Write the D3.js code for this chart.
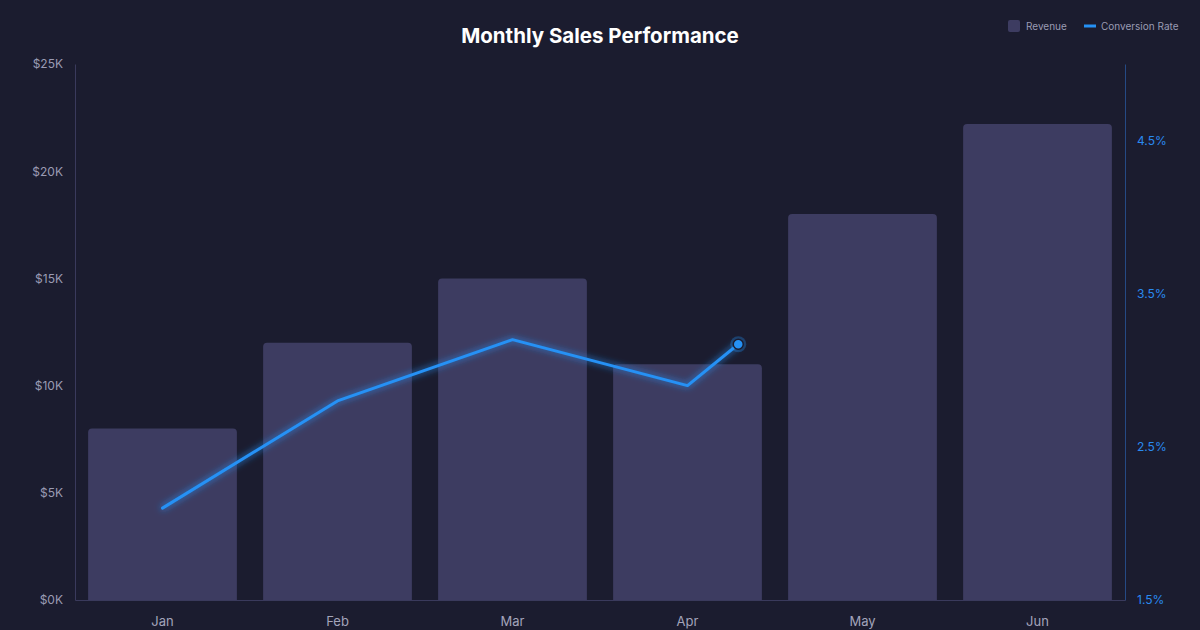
<!DOCTYPE html>
<html>
<head>
<meta charset="utf-8">
<script src="https://cdn.jsdelivr.net/npm/d3@7"></script>
<style>
  html, body { margin: 0; padding: 0; background: #1b1c2f; }
  body { font-family: Inter, "Noto Sans", sans-serif; }
</style>
</head>
<body>
<div id="chart"></div>
<script>
var months   = ["Jan", "Feb", "Mar", "Apr", "May", "Jun"]
var revenue  = [8000, 12000, 15000, 11000, 18000, 22200]
// conversion line, position in month index (last point is the drawing head)
var convIdx  = [0, 1, 2, 3, 3.29]
var convRate = [2.1, 2.8, 3.2, 2.9, 3.17]
var revTicks  = [0, 5000, 10000, 15000, 20000, 25000]
var rateTicks = [1.5, 2.5, 3.5, 4.5]

var W = 1200, H = 630
var margin = {top: 64, right: 75, bottom: 30, left: 75}
	,width  = W - margin.left - margin.right
	,height = H - margin.top - margin.bottom

var x = d3.scaleBand()
	.domain(months)
	.range([0, width])
	.paddingInner(0.15)
	.paddingOuter(0.075)

var y = d3.scaleLinear().domain([0, 25000]).range([height, 0])
var y2 = d3.scaleLinear().domain([1.5, 5.0]).range([height, 0])

var xi = d3.scaleLinear()
	.domain([0, months.length - 1])
	.range([x(months[0]) + x.bandwidth() / 2, x(months[months.length - 1]) + x.bandwidth() / 2])

var svg = d3.select('#chart').append('svg')
	.attr('width', W)
	.attr('height', H)

svg.append('rect').attr('width', W).attr('height', H).attr('fill', '#1b1c2f')

var defs = svg.append('defs')
var glow = defs.append('filter').attr('id', 'glow')
	.attr('x', '-20%').attr('y', '-20%').attr('width', '140%').attr('height', '140%')
glow.append('feGaussianBlur').attr('stdDeviation', 3.5).attr('result', 'blur')
var merge = glow.append('feMerge')
merge.append('feMergeNode').attr('in', 'blur')
merge.append('feMergeNode').attr('in', 'SourceGraphic')

// title
svg.append('text')
	.attr('x', W / 2).attr('y', 43)
	.attr('text-anchor', 'middle')
	.attr('fill', '#ffffff')
	.style('font-size', '20.5px')
	.style('font-weight', 700)
	.text('Monthly Sales Performance')

// legend
var lg = svg.append('g').attr('transform', 'translate(1008,20)')
lg.append('rect').attr('width', 12).attr('height', 12).attr('rx', 2).attr('fill', '#3d3c61')
lg.append('text').attr('x', 18).attr('y', 10).attr('fill', '#9a9bb3')
	.style('font-size', '10px').text('Revenue')
lg.append('line').attr('x1', 76).attr('x2', 88).attr('y1', 6).attr('y2', 6)
	.attr('stroke', '#2591f5').attr('stroke-width', 3)
lg.append('text').attr('x', 93).attr('y', 10).attr('fill', '#9a9bb3')
	.style('font-size', '10px').text('Conversion Rate')

var main = svg.append('g')
	.attr('transform', 'translate(' + margin.left + ',' + margin.top + ')')

// bars with rounded tops
main.selectAll('.bar')
	.data(revenue)
	.enter().append('path')
	.attr('class', 'bar')
	.attr('fill', '#3d3c61')
	.attr('d', function (d, i) {
		var x0 = x(months[i]), w = x.bandwidth(), y0 = y(d), r = 4
		return 'M' + x0 + ',' + height + 'V' + (y0 + r) + 'Q' + x0 + ',' + y0 + ' ' + (x0 + r) + ',' + y0 +
			'H' + (x0 + w - r) + 'Q' + (x0 + w) + ',' + y0 + ' ' + (x0 + w) + ',' + (y0 + r) + 'V' + height + 'Z'
	})

// left axis
var yAxis = main.append('g')
	.call(d3.axisLeft(y).tickValues(revTicks).tickSize(0).tickPadding(12)
		.tickFormat(function (d) { return '$' + (d / 1000) + 'K' }))
yAxis.select('.domain').attr('stroke', '#3a3a5c')
yAxis.selectAll('text').attr('fill', '#9a9bb3').style('font-size', '12px').style('font-family', 'Inter, sans-serif')

// right axis
var yAxis2 = main.append('g')
	.attr('transform', 'translate(' + width + ',0)')
	.call(d3.axisRight(y2).tickValues(rateTicks).tickSize(0).tickPadding(12)
		.tickFormat(function (d) { return d.toFixed(1) + '%' }))
yAxis2.select('.domain').attr('stroke', '#254a85')
yAxis2.selectAll('text').attr('fill', '#2a8af0').style('font-size', '12px').style('font-family', 'Inter, sans-serif')

// bottom axis
var xAxis = main.append('g')
	.attr('transform', 'translate(0,' + height + ')')
	.call(d3.axisBottom(x).tickSize(0).tickPadding(17))
xAxis.select('.domain').attr('stroke', '#3a3a5c')
xAxis.selectAll('text').attr('fill', '#a3a4bb').style('font-size', '13px').style('font-family', 'Inter, sans-serif')

// conversion line
var pts = convIdx.map(function (d, i) { return [xi(d), y2(convRate[i])] })
main.append('path')
	.datum(pts)
	.attr('fill', 'none')
	.attr('stroke', '#2591f5')
	.attr('stroke-width', 3)
	.attr('stroke-linejoin', 'round')
	.attr('stroke-linecap', 'round')
	.attr('filter', 'url(#glow)')
	.attr('d', d3.line())

var head = pts[pts.length - 1]
main.append('circle').attr('cx', head[0]).attr('cy', head[1]).attr('r', 8)
	.attr('fill', '#2591f5').attr('fill-opacity', 0.3)
main.append('circle').attr('cx', head[0]).attr('cy', head[1]).attr('r', 5)
	.attr('fill', '#2591f5').attr('stroke', '#1b1c2f').attr('stroke-width', 1.5)
</script>
</body>
</html>
